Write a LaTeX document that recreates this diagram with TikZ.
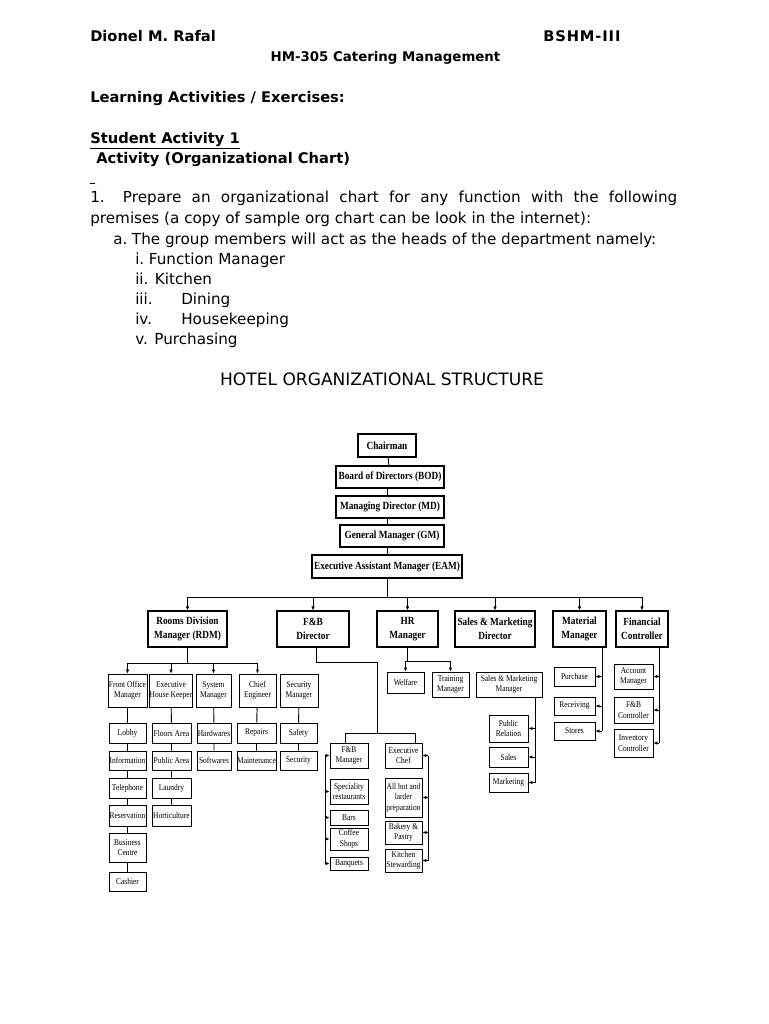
\documentclass[tikz,border=0pt]{standalone}
\usepackage{fontspec}
\setmainfont{DejaVu Sans}
\newfontfamily\hdfont{DejaVu Sans}
\newfontfamily\bdfont{DejaVu Sans}
\newfontfamily\chfont{Liberation Serif}[FakeStretch=0.85]
\usetikzlibrary{arrows.meta,shadows}
\newcommand\mkbox[7]{\node[#7, minimum width={(#4-#2)*0.75pt}, minimum height={(#5-#3)*0.75pt}] (#1) at ({(#2+#4)/2},{(#3+#5)/2}) {#6};}
\tikzset{
  hdtxt/.style={anchor=base west, inner sep=0, font=\hdfont\bfseries\fontsize{11}{13}\selectfont},
  bdtxt/.style={anchor=base west, inner sep=0, font=\bdfont\fontsize{11.4}{13}\selectfont},
  toptb/.style={draw, line width=0.8pt, fill=white, inner sep=0, align=center,
    drop shadow={shadow xshift=1.1pt, shadow yshift=-1.1pt, opacity=1, fill=black},
    font=\chfont\bfseries\fontsize{8.2}{10.5}\selectfont},
  subbox/.style={draw, line width=0.6pt, fill=white, inner sep=0, align=center,
    font=\chfont\fontsize{6.6}{7.8}\selectfont},
  lnk/.style={line width=0.7pt},
  arw/.style={line width=0.7pt, -{Latex[length=3pt,width=2.6pt]}}
}
\begin{document}
\begin{tikzpicture}[x=0.75pt,y=-0.75pt]
\useasboundingbox[fill=white] (0,0) rectangle (768,1024);
% ---- header text
\node[hdtxt] (t1) at (90,42) {Dionel M. Rafal};
\node[hdtxt] (t2) at (543,42) {\addfontfeature{LetterSpace=6}BSHM-III};
\node[hdtxt, anchor=base, font=\hdfont\bfseries\fontsize{10}{12}\selectfont] (t3) at (385.5,62) {HM-305 Catering Management};
\node[hdtxt] (t4) at (90,103) {Learning Activities / Exercises:};
\node[hdtxt] (t5) at (90,143) {\underline{Student Activity 1}};
\node[hdtxt] (t6) at (96,163) {Activity (Organizational Chart)};
\draw[line width=0.6pt] (90,183) -- (95,183);
\node[bdtxt] (t7) at (90,202) {\makebox[440.25pt][s]{1.\hspace{1.2em}Prepare an organizational chart for any function with the following}};
\node[bdtxt] (t8) at (90,223) {premises (a copy of sample org chart can be look in the internet):};
\node[bdtxt] (t9) at (113,244) {a.\hspace{0.3em}The group members will act as the heads of the department namely:};
\node[bdtxt] (t10) at (135,264) {i.\hspace{0.3em}Function Manager};
\node[bdtxt] (t11) at (135,284) {ii. Kitchen};
\node[bdtxt] (t12) at (135,304) {iii.};
\node[bdtxt] (t12b) at (181,304) {Dining};
\node[bdtxt] (t13) at (135,324) {iv.};
\node[bdtxt] (t13b) at (181,324) {Housekeeping};
\node[bdtxt] (t14) at (135,344) {v. Purchasing};
\node[bdtxt, anchor=base, font=\bdfont\fontsize{12.8}{14}\selectfont] (t15) at (382,385) {HOTEL ORGANIZATIONAL STRUCTURE};
% ---- top chain
\mkbox{chair}{358}{434}{416}{457}{Chairman}{toptb}
\mkbox{bod}{336}{466}{444}{488}{Board of Directors (BOD)}{toptb}
\mkbox{md}{336}{496}{444}{518}{Managing Director (MD)}{toptb}
\mkbox{gm}{340}{525}{444}{547}{General Manager (GM)}{toptb}
\mkbox{eam}{312}{555}{462}{578}{Executive Assistant Manager (EAM)}{toptb}
\draw[lnk] (chair) -- (bod);
\draw[lnk] (bod.south -| chair) -- (md.north -| chair);
\draw[lnk] (md.south -| chair) -- (gm.north -| chair);
\draw[lnk] (gm.south -| chair) -- (eam.north -| chair);
% ---- departments
\mkbox{rdm}{148}{611}{227}{647}{Rooms Division\\Manager (RDM)}{toptb}
\mkbox{fbd}{277}{611}{349}{647}{F\&B\\Director}{toptb}
\mkbox{hr}{377}{611}{438}{647}{HR\\Manager}{toptb}
\mkbox{smd}{455}{611}{535}{647}{Sales \& Marketing\\Director}{toptb}
\mkbox{mm}{553}{611}{606}{647}{Material\\Manager}{toptb}
\mkbox{fc}{616}{611}{668}{647}{Financial\\Controller}{toptb}
\coordinate (bus) at (0,597);
\draw[lnk] (eam.south) -- (eam.south |- bus);
\draw[lnk] (rdm.north |- bus) -- (fc.north |- bus);
\foreach \n in {rdm,fbd,hr,smd,mm,fc} \draw[arw] (\n.north |- bus) -- (\n.north);
% ---- rooms division
\mkbox{fom}{108}{674}{147}{707}{Front Office\\Manager}{subbox}
\mkbox{ehk}{151}{674}{191}{707}{Executive\\House Keeper}{subbox}
\mkbox{sym}{196}{674}{231}{707}{System\\Manager}{subbox}
\mkbox{che}{239}{674}{276}{707}{Chief\\Engineer}{subbox}
\mkbox{sem}{280}{674}{318}{707}{Security\\Manager}{subbox}
\coordinate (rbus) at (0,663);
\draw[lnk] (rdm.south) -- (rdm.south |- rbus);
\draw[lnk] (fom.north |- rbus) -- (che.north |- rbus);
\foreach \n in {fom,ehk,sym,che} \draw[arw] (\n.north |- rbus) -- (\n.north);
% front office column
\mkbox{lobby}{109}{723}{146}{743}{Lobby}{subbox}
\mkbox{info}{109}{751}{146}{770}{Information}{subbox}
\mkbox{tel}{109}{778}{146}{798}{Telephone}{subbox}
\mkbox{res}{109}{805}{146}{826}{Reservation}{subbox}
\mkbox{bc}{109}{833}{146}{862}{Business\\Centre}{subbox}
\mkbox{cash}{109}{872}{146}{891}{Cashier}{subbox}
\draw[lnk] (fom) -- (lobby) (lobby) -- (info) (info) -- (tel) (tel) -- (res) (res) -- (bc) (bc) -- (cash);
% housekeeping column
\mkbox{floors}{152}{723}{191}{743}{Floors Area}{subbox}
\mkbox{pub}{152}{751}{191}{770}{Public Area}{subbox}
\mkbox{laun}{152}{778}{191}{798}{Laundry}{subbox}
\mkbox{hort}{152}{805}{191}{826}{Horticulture}{subbox}
\draw[lnk] (ehk) -- (floors) (floors) -- (pub) (pub) -- (laun) (laun) -- (hort);
% system column
\mkbox{hw}{197}{723}{231}{743}{Hardwares}{subbox}
\mkbox{sw}{197}{751}{231}{770}{Softwares}{subbox}
\draw[lnk] (sym) -- (hw) (hw) -- (sw);
% chief engineer column
\mkbox{rep}{237}{723}{276}{743}{Repairs}{subbox}
\mkbox{maint}{237}{751}{276}{770}{Maintenance}{subbox}
\draw[lnk] (che) -- (rep) (rep) -- (maint);
% security column
\mkbox{safe}{280}{723}{317}{743}{Safety}{subbox}
\mkbox{secu}{280}{751}{317}{770}{Security}{subbox}
\draw[lnk] (sem) -- (safe) (safe) -- (secu);
% ---- F&B
\mkbox{fbm}{330}{743}{368}{768}{F\&B\\Manager}{subbox}
\mkbox{spec}{330}{779}{368}{804}{Speciality\\restaurants}{subbox}
\mkbox{bars}{330}{810}{368}{825}{Bars}{subbox}
\mkbox{coffee}{330}{828}{368}{850}{Coffee\\Shops}{subbox}
\mkbox{banq}{330}{857}{368}{870}{Banquets}{subbox}
\mkbox{exc}{385}{743}{422}{768}{Executive\\Chef}{subbox}
\mkbox{hot}{385}{778}{422}{817}{All hot and\\larder\\preparation}{subbox}
\mkbox{bak}{385}{821}{422}{844}{Bakery \&\\Pastry}{subbox}
\mkbox{kit}{385}{849}{422}{872}{Kitchen\\Stewarding}{subbox}
\coordinate (fx) at (377,0);
\coordinate (fy1) at (0,662);
\coordinate (fy2) at (0,733);
\coordinate (fbmx) at (345,0);
\coordinate (excx) at (415,0);
\draw[lnk] (fbd.south -| 316,0) -- (fy1 -| 316,0) -- (fy1 -| fx) -- (fy2 -| fx);
\draw[lnk] (fbmx |- fbm.north) -- (fbmx |- fy2) -- (excx |- fy2) -- (excx |- exc.north);
\coordinate (lbx) at (325,0);
\draw[lnk] (fbm.west -| lbx) -- (banq.west -| lbx);
\foreach \n in {fbm,spec,bars,coffee,banq} \draw[arw] (\n.west -| lbx) -- (\n.west);
\coordinate (rbx) at (428,0);
\draw[lnk] (exc.east -| rbx) -- (kit.east -| rbx);
\foreach \n in {exc,hot,bak,kit} \draw[arw] (\n.east -| rbx) -- (\n.east);
% ---- HR
\mkbox{wel}{387}{672}{424}{693}{Welfare}{subbox}
\mkbox{trm}{432}{672}{469}{697}{Training\\Manager}{subbox}
\coordinate (hbus) at (0,661);
\draw[lnk] (hr.south) -- (hr.south |- hbus);
\draw[lnk] (wel.north |- hbus) -- (trm.north |- hbus);
\foreach \n in {wel,trm} \draw[arw] (\n.north |- hbus) -- (\n.north);
% ---- Sales & Marketing
\mkbox{smm}{476}{672}{542}{697}{Sales \& Marketing\\Manager}{subbox}
\mkbox{pr}{489}{715}{528}{742}{Public\\Relation}{subbox}
\mkbox{sales}{489}{747}{528}{767}{Sales}{subbox}
\mkbox{mkt}{489}{773}{528}{792}{Marketing}{subbox}
\coordinate (sx) at (535,0);
\draw[lnk] (smm.south -| sx) -- (mkt.east -| sx);
\foreach \n in {pr,sales,mkt} \draw[arw] (\n.east -| sx) -- (\n.east);
% ---- Material
\mkbox{pur}{554}{667}{595}{686}{Purchase}{subbox}
\mkbox{rec}{554}{697}{595}{715}{Receiving}{subbox}
\mkbox{sto}{554}{722}{595}{740}{Stores}{subbox}
\coordinate (mx) at (602,0);
\draw[lnk] (mm.south -| mx) -- (sto.east -| mx);
\foreach \n in {pur,rec,sto} \draw[arw] (\n.east -| mx) -- (\n.east);
% ---- Financial
\mkbox{acc}{614}{664}{653}{689}{Account\\Manager}{subbox}
\mkbox{fbc}{614}{697}{653}{723}{F\&B\\Controller}{subbox}
\mkbox{inv}{614}{729}{653}{757}{Inventory\\Controller}{subbox}
\coordinate (cx) at (659,0);
\draw[lnk] (fc.south -| cx) -- (inv.east -| cx);
\foreach \n in {acc,fbc,inv} \draw[arw] (\n.east -| cx) -- (\n.east);
\end{tikzpicture}
\end{document}
